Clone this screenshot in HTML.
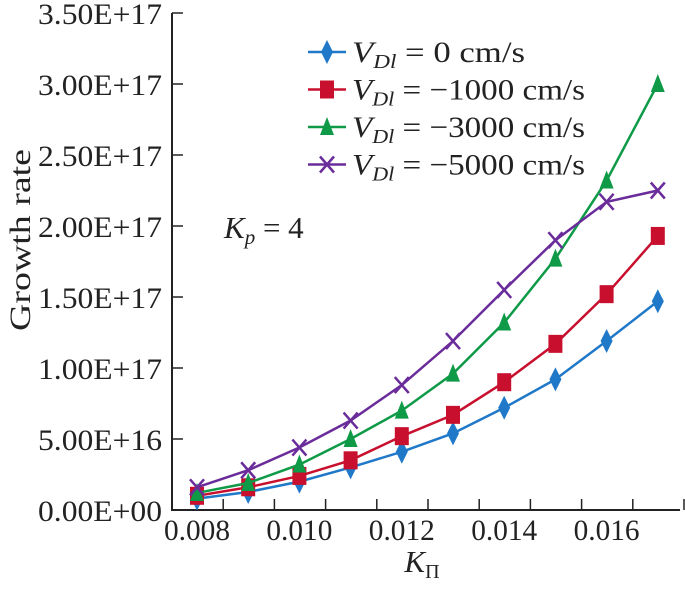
<!DOCTYPE html>
<html><head><meta charset="utf-8"><style>
body{margin:0;background:#fff}
svg text{font-family:"Liberation Serif",serif;fill:#222}
</style></head><body>
<svg id="c" width="685" height="585" xmlns="http://www.w3.org/2000/svg"></svg>
<script>
const xValues=[0.008,0.009,0.010,0.011,0.012,0.013,0.014,0.015,0.016,0.017];
const seriesV0=[0.8e16,1.27e16,2.0e16,3.0e16,4.1e16,5.4e16,7.2e16,9.2e16,11.9e16,14.7e16];
const seriesV1000=[1.0e16,1.6e16,2.4e16,3.5e16,5.2e16,6.7e16,9.0e16,11.7e16,15.2e16,19.3e16];
const seriesV3000=[1.2e16,1.9e16,3.2e16,5.0e16,7.0e16,9.6e16,13.2e16,17.7e16,23.2e16,30.0e16];
const seriesV5000=[1.6e16,2.8e16,4.4e16,6.3e16,8.8e16,11.9e16,15.5e16,19.0e16,21.7e16,22.5e16];
const yTicks=[0,5e16,1e17,1.5e17,2e17,2.5e17,3e17,3.5e17];
const yTickLabels=["0.00E+00","5.00E+16","1.00E+17","1.50E+17","2.00E+17","2.50E+17","3.00E+17","3.50E+17"];
const xTickLabels=["0.008","0.010","0.012","0.014","0.016"];
const xTickValues=[0.008,0.010,0.012,0.014,0.016];
const svg=document.getElementById('c');const NS="http://www.w3.org/2000/svg";
function X(v){return 197+(v-0.008)/0.001*51.2;}
function Y(v){return 510-v/5e16*71;}
function mk(t,a,p){const e=document.createElementNS(NS,t);for(const k in a)e.setAttribute(k,a[k]);(p||svg).appendChild(e);return e;}
let ax=mk('line',{x1:172,y1:13,x2:172,y2:510,stroke:'#222','stroke-width':2});


ax=mk('line',{x1:171,y1:510,x2:680,y2:510,stroke:'#222','stroke-width':2});


yTicks.forEach((v,i)=>{
 mk('line',{x1:172,y1:Y(v),x2:183,y2:Y(v),stroke:'#222','stroke-width':1.5});
 const t=mk('text',{x:162,y:Y(v)+11,'text-anchor':'end','font-size':30,textLength:124,lengthAdjust:'spacingAndGlyphs'});t.textContent=yTickLabels[i];
 
 
});
for(let k=1;k<=10;k++){const x=172+51.2*k;mk('line',{x1:x,y1:510,x2:x,y2:499,stroke:'#222','stroke-width':1.5});}
xTickValues.forEach((v,i)=>{
 const t=mk('text',{x:X(v),y:540,'text-anchor':'middle','font-size':30,textLength:66,lengthAdjust:'spacingAndGlyphs'});t.textContent=xTickLabels[i];
 
 
});
let yt=mk('text',{x:30,y:240,'text-anchor':'middle','font-size':30,textLength:182,lengthAdjust:'spacingAndGlyphs',transform:'rotate(-90 30 240)'});yt.textContent='Growth rate';


let xt=mk('text',{x:422,y:572,'text-anchor':'middle','font-size':31,'font-style':'italic'});xt.innerHTML='K<tspan font-size="20" font-style="normal" dy="6">Π</tspan>';


let kp=mk('text',{x:224,y:238,'font-size':31,'font-style':'italic'});kp.innerHTML='K<tspan font-size="21" dy="6">p</tspan><tspan dy="-6" font-style="normal"> = 4</tspan>';


function marker(g,type,x,y,c){
 if(type==='d')mk('polygon',{points:`${x},${y-12} ${x+6},${y} ${x},${y+12} ${x-6},${y}`,fill:c},g);
 else if(type==='s')mk('rect',{x:x-7,y:y-9,width:14,height:18,fill:c},g);
 else if(type==='t')mk('polygon',{points:`${x},${y-10} ${x+7},${y+8} ${x-7},${y+8}`,fill:c},g);
 else{mk('line',{x1:x-7,y1:y-8,x2:x+7,y2:y+8,stroke:c,'stroke-width':2.5},g);mk('line',{x1:x+7,y1:y-8,x2:x-7,y2:y+8,stroke:c,'stroke-width':2.5},g);}
}
const series=[[seriesV0,'#1f78c8','d','0 cm/s','series-v0',173],[seriesV1000,'#c8102e','s','−1000 cm/s','series-v-1000',233],[seriesV3000,'#0e9a47','t','−3000 cm/s','series-v-3000',233],[seriesV5000,'#6a2c9a','x','−5000 cm/s','series-v-5000',233]];
series.forEach((s,si)=>{
 const g=mk('g',{});
 
 
 mk('polyline',{points:s[0].map((v,i)=>X(xValues[i])+','+Y(v)).join(' '),fill:'none',stroke:s[1],'stroke-width':2.5},g);
 s[0].forEach((v,i)=>marker(g,s[2],X(xValues[i]),Y(v),s[1]));
 const ly=52+si*37.5;
 const lg=mk('g',{});
 
 
 mk('line',{x1:308,y1:ly,x2:346,y2:ly,stroke:s[1],'stroke-width':2.5},lg);
 marker(lg,s[2],327,ly,s[1]);
 const t=mk('text',{x:352,y:ly+10,'font-size':30,textLength:s[5],lengthAdjust:'spacingAndGlyphs'},lg);
 t.innerHTML='<tspan font-style="italic">V</tspan><tspan font-style="italic" font-size="20" dy="6">Dl</tspan><tspan dy="-6"> = '+s[3]+'</tspan>';
});
</script>
</body></html>
